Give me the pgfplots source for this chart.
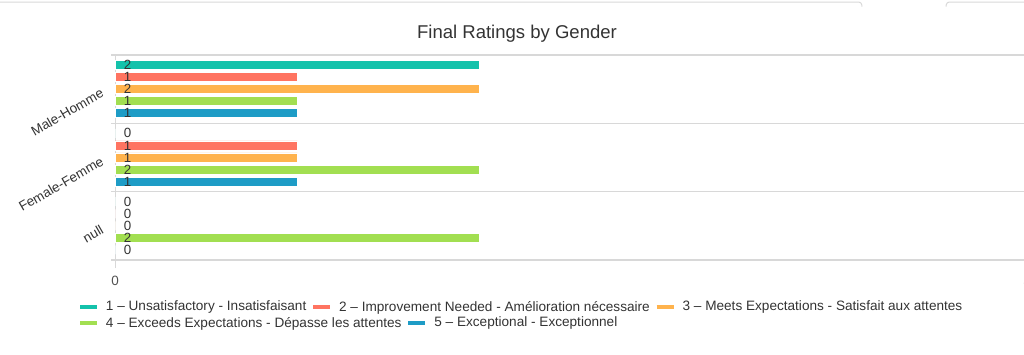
\documentclass[border=0pt]{standalone}
\usepackage{pgfplots}
\pgfplotsset{compat=1.18}
\usepackage{pgfplotstable}
\usepackage{fontspec}
\setmainfont{Liberation Sans}
\definecolor{cA}{HTML}{14C2AB}
\definecolor{cB}{HTML}{FF7461}
\definecolor{cC}{HTML}{FFB34D}
\definecolor{cD}{HTML}{A2DF51}
\definecolor{cE}{HTML}{1E9CC6}
\definecolor{txt}{HTML}{333333}
\definecolor{gridc}{HTML}{D8D8D8}

\pgfplotstableread{
cat s1 s2 s3 s4 s5
0 2 1 2 1 1
1 0 1 1 2 1
2 0 0 0 2 0
}\ratings

\pgfplotsset{
  lbl/.style={draw=none, mark=none, nodes near coords, nodes near coords align={horizontal},
    point meta=explicit,
    every node near coord/.append style={inner sep=0pt, xshift=6.4pt, font=\fontsize{10}{12}\selectfont, text=txt}},
  bars/.style={xbar, bar shift=0pt, bar width=0.132, draw=white, line width=0.5pt}
}

\begin{document}
\begin{tikzpicture}
\useasboundingbox (0,0) rectangle (768pt,-265.5pt);
\draw[gridc, line width=0.75pt, rounded corners=2pt] (0,-1.5pt) -- (646pt,-1.5pt) -- (646.5pt,-5pt);
\draw[gridc, line width=0.75pt, rounded corners=2pt] (709.5pt,-5pt) -- (710pt,-1.5pt) -- (768pt,-1.5pt);
\node[font=\fontsize{13.9}{16}\selectfont, text=txt] at (387.75pt,-25.5pt) {Final Ratings by Gender};

\begin{axis}[
  at={(86.25pt,-195pt)}, anchor=south west,
  scale only axis, width=684pt, height=153.75pt,
  xmin=0, xmax=5, ymin=-0.5, ymax=2.5, y dir=reverse,
  /pgf/number format/assume math mode=true,
  separate axis lines,
  x axis line style={draw=none},
  y axis line style={draw=gridc, line width=0.75pt},
  xtick={0,5}, xtick pos=lower, tick align=outside,
  major tick length=6pt,
  x tick style={draw=gridc, line width=0.75pt},
  ytick={0,1,2}, yticklabels={Male-Homme, Female-Femme, null},
  ytick pos=left,
  y tick style={draw=none},
  minor ytick={-0.5,0.5,1.5,2.5},
  minor y tick style={draw=gridc, line width=1pt},
  minor tick length=3pt,
  yminorgrids=true,
  minor grid style={draw=gridc, line width=1pt},
  xticklabel style={font=\fontsize{10.1}{12}\selectfont, text=txt!85, anchor=center, yshift=-10pt},
  yticklabel style={font=\fontsize{10.1}{12}\selectfont, text=txt, rotate=30, anchor=east, inner sep=0pt, xshift=-4pt},
  clip=false,
]
\addplot[bars, fill=cA] table[x=s1, y expr=\thisrow{cat}-0.353]{\ratings};
\addplot[bars, fill=cB] table[x=s2, y expr=\thisrow{cat}-0.176]{\ratings};
\addplot[bars, fill=cC] table[x=s3, y expr=\thisrow{cat}]{\ratings};
\addplot[bars, fill=cD] table[x=s4, y expr=\thisrow{cat}+0.176]{\ratings};
\addplot[bars, fill=cE] table[x=s5, y expr=\thisrow{cat}+0.353]{\ratings};
\addplot[lbl] table[x expr=0, y expr=\thisrow{cat}-0.353, meta=s1]{\ratings};
\addplot[lbl] table[x expr=0, y expr=\thisrow{cat}-0.176, meta=s2]{\ratings};
\addplot[lbl] table[x expr=0, y expr=\thisrow{cat}, meta=s3]{\ratings};
\addplot[lbl] table[x expr=0, y expr=\thisrow{cat}+0.176, meta=s4]{\ratings};
\addplot[lbl] table[x expr=0, y expr=\thisrow{cat}+0.353, meta=s5]{\ratings};
\end{axis}

\pgfplotsset{
  legrow/.style={anchor=south west, scale only axis, width=1pt, height=1pt, hide axis,
    xmin=0, xmax=1, ymin=0, ymax=1,
    legend image code/.code={\draw[##1, line width=3pt] (0pt,0pt) -- (12.75pt,0pt);},
    legend style={at={(0,0)}, anchor=west, draw=none, fill=none, inner sep=0pt, outer sep=0pt,
      font=\fontsize{10.2}{12}\selectfont, text=txt,
      nodes={inner sep=0pt},
      /tikz/every odd column/.append style={column sep=5.25pt},
      /tikz/every even column/.append style={column sep=3.6pt}}}
}
\begin{axis}[legrow, at={(58.5pt,-230.25pt)}, legend columns=3]
\addlegendimage{cA}\addlegendentry{1 – Unsatisfactory - Insatisfaisant}
\addlegendimage{cB}\addlegendentry{2 – Improvement Needed - Amélioration nécessaire}
\addlegendimage{cC}\addlegendentry{3 – Meets Expectations - Satisfait aux attentes}
\end{axis}
\begin{axis}[legrow, at={(58.5pt,-242.25pt)}, legend columns=2]
\addlegendimage{cD}\addlegendentry{4 – Exceeds Expectations - Dépasse les attentes}
\addlegendimage{cE}\addlegendentry{5 – Exceptional - Exceptionnel}
\end{axis}
\end{tikzpicture}
\end{document}
